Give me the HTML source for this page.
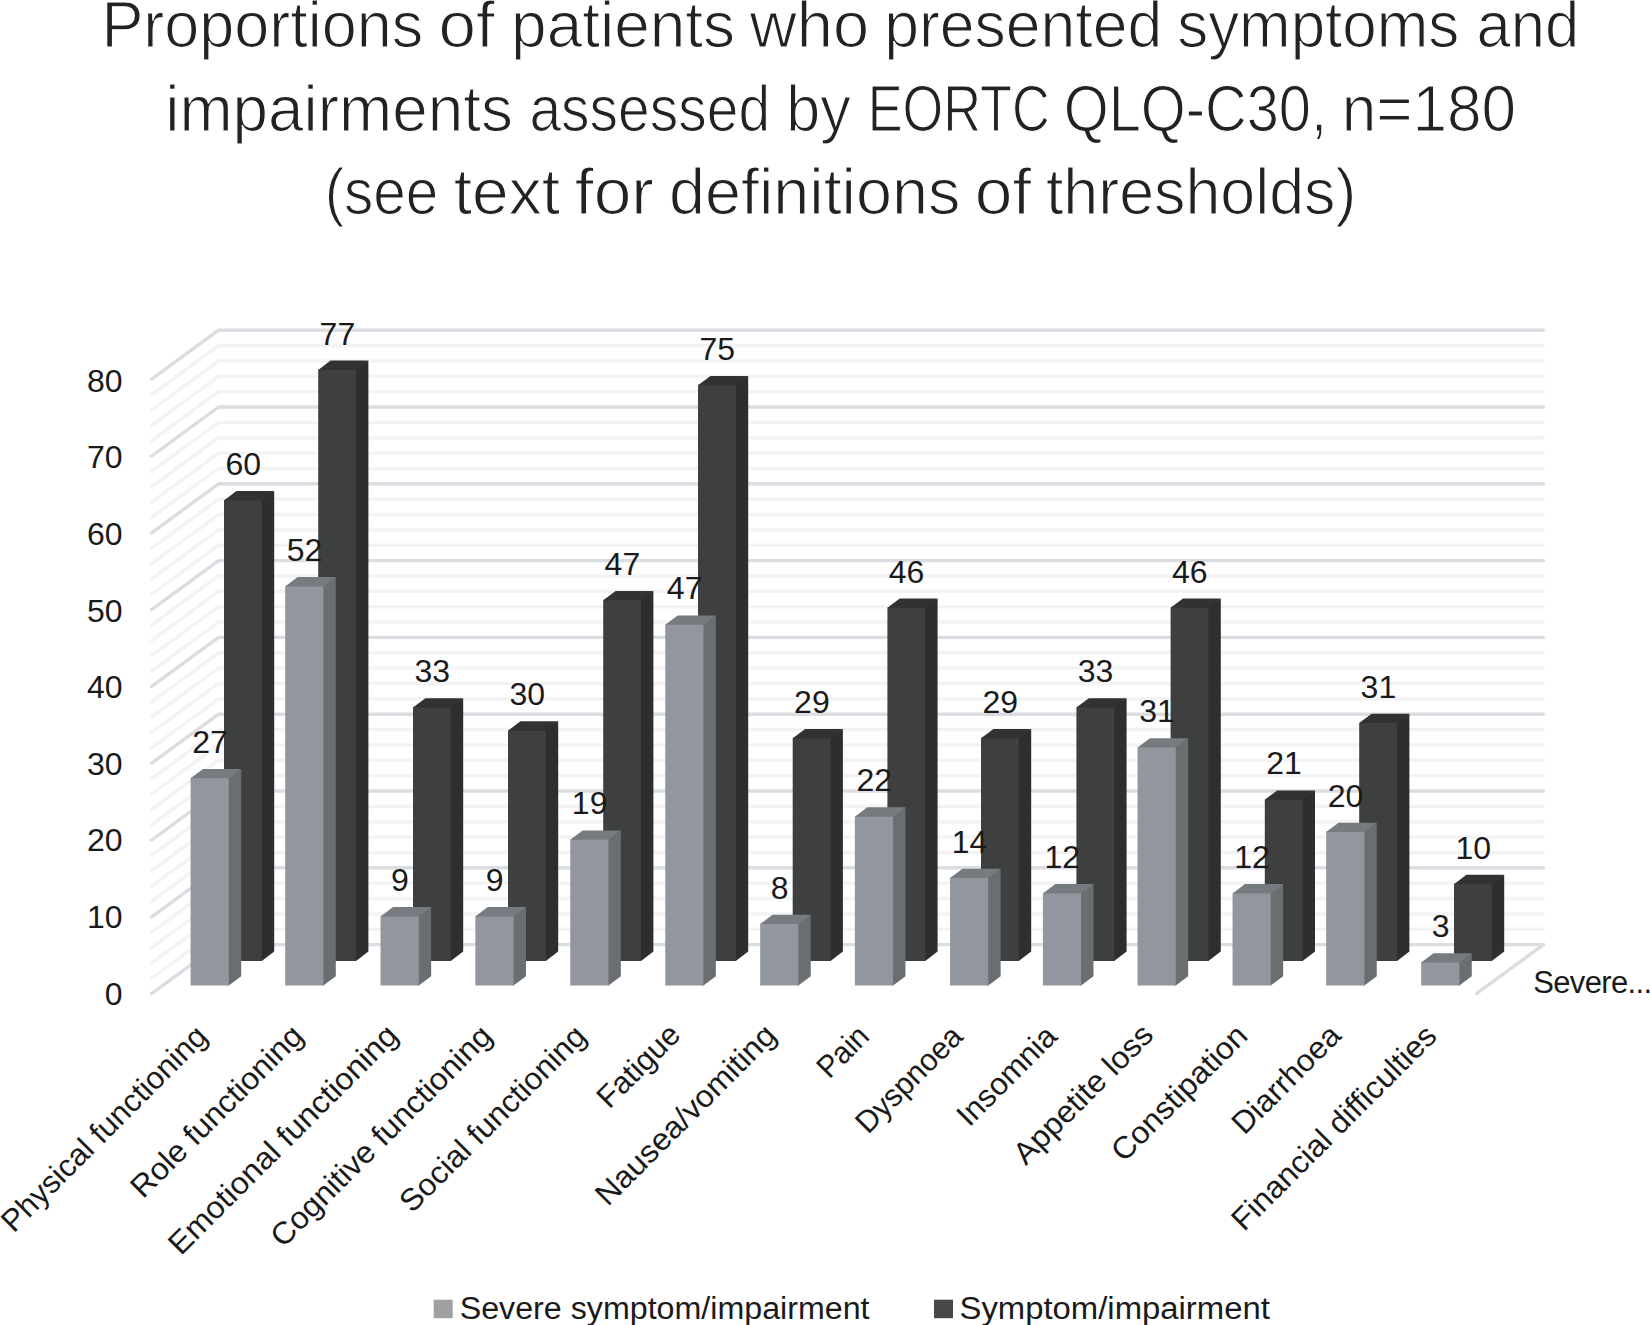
<!DOCTYPE html>
<html><head><meta charset="utf-8"><title>Proportions of patients who presented symptoms and impairments (EORTC QLQ-C30)</title>
<style>html,body{margin:0;padding:0;background:#fff;overflow:hidden;}svg{display:block;}</style>
</head><body>
<svg width="1650" height="1325" viewBox="0 0 1650 1325">
<rect width="1650" height="1325" fill="#fff"/>
<path d="M151.7 978.24L218.6 929.24L1543.4 929.24M151.7 962.88L218.6 913.88L1543.4 913.88M151.7 947.52L218.6 898.52L1543.4 898.52M151.7 932.16L218.6 883.16L1543.4 883.16M151.7 901.44L218.6 852.44L1543.4 852.44M151.7 886.08L218.6 837.08L1543.4 837.08M151.7 870.72L218.6 821.72L1543.4 821.72M151.7 855.36L218.6 806.36L1543.4 806.36M151.7 824.64L218.6 775.64L1543.4 775.64M151.7 809.28L218.6 760.28L1543.4 760.28M151.7 793.92L218.6 744.92L1543.4 744.92M151.7 778.56L218.6 729.56L1543.4 729.56M151.7 747.84L218.6 698.84L1543.4 698.84M151.7 732.48L218.6 683.48L1543.4 683.48M151.7 717.12L218.6 668.12L1543.4 668.12M151.7 701.76L218.6 652.76L1543.4 652.76M151.7 671.04L218.6 622.04L1543.4 622.04M151.7 655.68L218.6 606.68L1543.4 606.68M151.7 640.32L218.6 591.32L1543.4 591.32M151.7 624.96L218.6 575.96L1543.4 575.96M151.7 594.24L218.6 545.24L1543.4 545.24M151.7 578.88L218.6 529.88L1543.4 529.88M151.7 563.52L218.6 514.52L1543.4 514.52M151.7 548.16L218.6 499.16L1543.4 499.16M151.7 517.44L218.6 468.44L1543.4 468.44M151.7 502.08L218.6 453.08L1543.4 453.08M151.7 486.72L218.6 437.72L1543.4 437.72M151.7 471.36L218.6 422.36L1543.4 422.36M151.7 440.64L218.6 391.64L1543.4 391.64M151.7 425.28L218.6 376.28L1543.4 376.28M151.7 409.92L218.6 360.92L1543.4 360.92M151.7 394.56L218.6 345.56L1543.4 345.56" fill="none" stroke="#f3f3f6" stroke-width="3.4" stroke-linejoin="round" stroke-linecap="round"/>
<path d="M151.7 993.6L218.6 944.6L1543.4 944.6M151.7 916.8L218.6 867.8L1543.4 867.8M151.7 840L218.6 791L1543.4 791M151.7 763.2L218.6 714.2L1543.4 714.2M151.7 686.4L218.6 637.4L1543.4 637.4M151.7 609.6L218.6 560.6L1543.4 560.6M151.7 532.8L218.6 483.8L1543.4 483.8M151.7 456L218.6 407L1543.4 407M151.7 379.2L218.6 330.2L1543.4 330.2" fill="none" stroke="#dcdde2" stroke-width="3.4" stroke-linejoin="round" stroke-linecap="round"/>
<path d="M1476.5 993.6L1543.4 944.6" fill="none" stroke="#dcdde2" stroke-width="3.4" stroke-linecap="round"/>
<path d="M260.8 960.9H261.8L274.2 951.6V491.1L260.8 499.4Z" fill="#2d2f2e"/><path d="M224 960.9H261.8V499.6H225.07L224 500.4Z" fill="#3e4040"/><path d="M224 500.4H261.8L274.2 491.1H236.4Z" fill="#303332"/>
<path d="M355 960.9H356L368.4 951.6V360.62L355 368.92Z" fill="#2d2f2e"/><path d="M318.2 960.9H356V369.12H319.27L318.2 369.92Z" fill="#3e4040"/><path d="M318.2 369.92H356L368.4 360.62H330.6Z" fill="#303332"/>
<path d="M449.8 960.9H450.8L463.2 951.6V698.33L449.8 706.62Z" fill="#2d2f2e"/><path d="M413 960.9H450.8V706.83H414.07L413 707.62Z" fill="#3e4040"/><path d="M413 707.62H450.8L463.2 698.33H425.4Z" fill="#303332"/>
<path d="M544.8 960.9H545.8L558.2 951.6V721.35L544.8 729.65Z" fill="#2d2f2e"/><path d="M508 960.9H545.8V729.85H509.07L508 730.65Z" fill="#3e4040"/><path d="M508 730.65H545.8L558.2 721.35H520.4Z" fill="#303332"/>
<path d="M640 960.9H641L653.4 951.6V590.88L640 599.17Z" fill="#2d2f2e"/><path d="M603.2 960.9H641V599.38H604.27L603.2 600.17Z" fill="#3e4040"/><path d="M603.2 600.17H641L653.4 590.88H615.6Z" fill="#303332"/>
<path d="M734.8 960.9H735.8L748.2 951.6V375.97L734.8 384.27Z" fill="#2d2f2e"/><path d="M698 960.9H735.8V384.47H699.07L698 385.27Z" fill="#3e4040"/><path d="M698 385.27H735.8L748.2 375.97H710.4Z" fill="#303332"/>
<path d="M829.5 960.9H830.5L842.9 951.6V729.03L829.5 737.33Z" fill="#2d2f2e"/><path d="M792.7 960.9H830.5V737.53H793.77L792.7 738.33Z" fill="#3e4040"/><path d="M792.7 738.33H830.5L842.9 729.03H805.1Z" fill="#303332"/>
<path d="M924.2 960.9H925.2L937.6 951.6V598.55L924.2 606.85Z" fill="#2d2f2e"/><path d="M887.4 960.9H925.2V607.05H888.47L887.4 607.85Z" fill="#3e4040"/><path d="M887.4 607.85H925.2L937.6 598.55H899.8Z" fill="#303332"/>
<path d="M1017.8 960.9H1018.8L1031.2 951.6V729.03L1017.8 737.33Z" fill="#2d2f2e"/><path d="M981 960.9H1018.8V737.53H982.07L981 738.33Z" fill="#3e4040"/><path d="M981 738.33H1018.8L1031.2 729.03H993.4Z" fill="#303332"/>
<path d="M1113.2 960.9H1114.2L1126.6 951.6V698.33L1113.2 706.62Z" fill="#2d2f2e"/><path d="M1076.4 960.9H1114.2V706.83H1077.47L1076.4 707.62Z" fill="#3e4040"/><path d="M1076.4 707.62H1114.2L1126.6 698.33H1088.8Z" fill="#303332"/>
<path d="M1207.4 960.9H1208.4L1220.8 951.6V598.55L1207.4 606.85Z" fill="#2d2f2e"/><path d="M1170.6 960.9H1208.4V607.05H1171.67L1170.6 607.85Z" fill="#3e4040"/><path d="M1170.6 607.85H1208.4L1220.8 598.55H1183Z" fill="#303332"/>
<path d="M1301.6 960.9H1302.6L1315 951.6V790.43L1301.6 798.73Z" fill="#2d2f2e"/><path d="M1264.8 960.9H1302.6V798.93H1265.87L1264.8 799.73Z" fill="#3e4040"/><path d="M1264.8 799.73H1302.6L1315 790.43H1277.2Z" fill="#303332"/>
<path d="M1396 960.9H1397L1409.4 951.6V713.68L1396 721.98Z" fill="#2d2f2e"/><path d="M1359.2 960.9H1397V722.18H1360.27L1359.2 722.98Z" fill="#3e4040"/><path d="M1359.2 722.98H1397L1409.4 713.68H1371.6Z" fill="#303332"/>
<path d="M1490.8 960.9H1491.8L1504.2 951.6V874.85L1490.8 883.15Z" fill="#2d2f2e"/><path d="M1454 960.9H1491.8V883.35H1455.07L1454 884.15Z" fill="#3e4040"/><path d="M1454 884.15H1491.8L1504.2 874.85H1466.4Z" fill="#303332"/>
<path d="M227.8 985.5H228.8L241.2 976.2V768.98L227.8 777.27Z" fill="#6a6e71"/><path d="M190.6 985.5H228.8V777.48H191.67L190.6 778.27Z" fill="#92969e"/><path d="M190.6 778.27H228.8L241.2 768.98H203Z" fill="#767b7f"/>
<path d="M322.4 985.5H323.4L335.8 976.2V577.1L322.4 585.4Z" fill="#6a6e71"/><path d="M285.2 985.5H323.4V585.6H286.27L285.2 586.4Z" fill="#92969e"/><path d="M285.2 586.4H323.4L335.8 577.1H297.6Z" fill="#767b7f"/>
<path d="M417.75 985.5H418.75L431.15 976.2V907.12L417.75 915.42Z" fill="#6a6e71"/><path d="M380.55 985.5H418.75V915.62H381.62L380.55 916.42Z" fill="#92969e"/><path d="M380.55 916.42H418.75L431.15 907.12H392.95Z" fill="#767b7f"/>
<path d="M512.55 985.5H513.55L525.95 976.2V907.12L512.55 915.42Z" fill="#6a6e71"/><path d="M475.35 985.5H513.55V915.62H476.42L475.35 916.42Z" fill="#92969e"/><path d="M475.35 916.42H513.55L525.95 907.12H487.75Z" fill="#767b7f"/>
<path d="M607.45 985.5H608.45L620.85 976.2V830.38L607.45 838.67Z" fill="#6a6e71"/><path d="M570.25 985.5H608.45V838.88H571.32L570.25 839.67Z" fill="#92969e"/><path d="M570.25 839.67H608.45L620.85 830.38H582.65Z" fill="#767b7f"/>
<path d="M702.45 985.5H703.45L715.85 976.2V615.48L702.45 623.78Z" fill="#6a6e71"/><path d="M665.25 985.5H703.45V623.98H666.32L665.25 624.78Z" fill="#92969e"/><path d="M665.25 624.78H703.45L715.85 615.48H677.65Z" fill="#767b7f"/>
<path d="M797.35 985.5H798.35L810.75 976.2V914.8L797.35 923.1Z" fill="#6a6e71"/><path d="M760.15 985.5H798.35V923.3H761.22L760.15 924.1Z" fill="#92969e"/><path d="M760.15 924.1H798.35L810.75 914.8H772.55Z" fill="#767b7f"/>
<path d="M892.05 985.5H893.05L905.45 976.2V807.35L892.05 815.65Z" fill="#6a6e71"/><path d="M854.85 985.5H893.05V815.85H855.92L854.85 816.65Z" fill="#92969e"/><path d="M854.85 816.65H893.05L905.45 807.35H867.25Z" fill="#767b7f"/>
<path d="M987.25 985.5H988.25L1000.65 976.2V868.75L987.25 877.05Z" fill="#6a6e71"/><path d="M950.05 985.5H988.25V877.25H951.12L950.05 878.05Z" fill="#92969e"/><path d="M950.05 878.05H988.25L1000.65 868.75H962.45Z" fill="#767b7f"/>
<path d="M1080.1 985.5H1081.1L1093.5 976.2V884.1L1080.1 892.4Z" fill="#6a6e71"/><path d="M1042.9 985.5H1081.1V892.6H1043.97L1042.9 893.4Z" fill="#92969e"/><path d="M1042.9 893.4H1081.1L1093.5 884.1H1055.3Z" fill="#767b7f"/>
<path d="M1174.75 985.5H1175.75L1188.15 976.2V738.28L1174.75 746.58Z" fill="#6a6e71"/><path d="M1137.55 985.5H1175.75V746.78H1138.62L1137.55 747.58Z" fill="#92969e"/><path d="M1137.55 747.58H1175.75L1188.15 738.28H1149.95Z" fill="#767b7f"/>
<path d="M1269.75 985.5H1270.75L1283.15 976.2V884.1L1269.75 892.4Z" fill="#6a6e71"/><path d="M1232.55 985.5H1270.75V892.6H1233.62L1232.55 893.4Z" fill="#92969e"/><path d="M1232.55 893.4H1270.75L1283.15 884.1H1244.95Z" fill="#767b7f"/>
<path d="M1363.35 985.5H1364.35L1376.75 976.2V822.7L1363.35 831Z" fill="#6a6e71"/><path d="M1326.15 985.5H1364.35V831.2H1327.22L1326.15 832Z" fill="#92969e"/><path d="M1326.15 832H1364.35L1376.75 822.7H1338.55Z" fill="#767b7f"/>
<path d="M1458.35 985.5H1459.35L1471.75 976.2V953.18L1458.35 961.48Z" fill="#6a6e71"/><path d="M1421.15 985.5H1459.35V961.68H1422.22L1421.15 962.48Z" fill="#92969e"/><path d="M1421.15 962.48H1459.35L1471.75 953.18H1433.55Z" fill="#767b7f"/>
<g font-family="'Liberation Sans', Arial, sans-serif" font-size="32" fill="#1a1a1a"  text-anchor="middle">
<text x="243.2" y="475.1">60</text>
<text x="337.4" y="344.62">77</text>
<text x="432.2" y="682.33">33</text>
<text x="527.2" y="705.35">30</text>
<text x="622.4" y="574.88">47</text>
<text x="717.2" y="359.97">75</text>
<text x="811.9" y="713.03">29</text>
<text x="906.6" y="582.55">46</text>
<text x="1000.2" y="713.03">29</text>
<text x="1095.6" y="682.33">33</text>
<text x="1189.8" y="582.55">46</text>
<text x="1284" y="774.43">21</text>
<text x="1378.4" y="697.68">31</text>
<text x="1473.2" y="858.85">10</text>
<text x="210" y="752.77">27</text>
<text x="304.6" y="560.9">52</text>
<text x="399.95" y="890.92">9</text>
<text x="494.75" y="890.92">9</text>
<text x="589.65" y="814.17">19</text>
<text x="684.65" y="599.28">47</text>
<text x="779.55" y="898.6">8</text>
<text x="874.25" y="791.15">22</text>
<text x="969.45" y="852.55">14</text>
<text x="1062.3" y="867.9">12</text>
<text x="1156.95" y="722.08">31</text>
<text x="1251.95" y="867.9">12</text>
<text x="1345.55" y="806.5">20</text>
<text x="1440.55" y="936.98">3</text>
</g>
<g font-family="'Liberation Sans', Arial, sans-serif" font-size="32" fill="#1a1a1a"  text-anchor="end">
<text x="122.5" y="1004.8">0</text>
<text x="122.5" y="928.14">10</text>
<text x="122.5" y="851.48">20</text>
<text x="122.5" y="774.82">30</text>
<text x="122.5" y="698.16">40</text>
<text x="122.5" y="621.5">50</text>
<text x="122.5" y="544.84">60</text>
<text x="122.5" y="468.18">70</text>
<text x="122.5" y="391.52">80</text>
</g>
<g font-family="'Liberation Sans', Arial, sans-serif" font-size="31" fill="#1a1a1a"  text-anchor="end">
<text x="209.1" y="1038.2" textLength="276.4" lengthAdjust="spacingAndGlyphs" transform="rotate(-45 209.1 1038.2)">Physical functioning</text>
<text x="305" y="1037.7" textLength="228.91" lengthAdjust="spacingAndGlyphs" transform="rotate(-45 305 1037.7)">Role functioning</text>
<text x="399.8" y="1037.3" textLength="309.86" lengthAdjust="spacingAndGlyphs" transform="rotate(-45 399.8 1037.3)">Emotional functioning</text>
<text x="493.9" y="1037.8" textLength="298.33" lengthAdjust="spacingAndGlyphs" transform="rotate(-45 493.9 1037.8)">Cognitive functioning</text>
<text x="588" y="1038" textLength="248.73" lengthAdjust="spacingAndGlyphs" transform="rotate(-45 588 1038)">Social functioning</text>
<text x="682.2" y="1036.7" textLength="103.26" lengthAdjust="spacingAndGlyphs" transform="rotate(-45 682.2 1036.7)">Fatigue</text>
<text x="777.9" y="1037.1" textLength="240.45" lengthAdjust="spacingAndGlyphs" transform="rotate(-45 777.9 1037.1)">Nausea/vomiting</text>
<text x="871" y="1038" textLength="59.15" lengthAdjust="spacingAndGlyphs" transform="rotate(-45 871 1038)">Pain</text>
<text x="964.5" y="1038.3" textLength="136.62" lengthAdjust="spacingAndGlyphs" transform="rotate(-45 964.5 1038.3)">Dyspnoea</text>
<text x="1058.8" y="1038.2" textLength="126.72" lengthAdjust="spacingAndGlyphs" transform="rotate(-45 1058.8 1038.2)">Insomnia</text>
<text x="1155.1" y="1036.8" textLength="182.95" lengthAdjust="spacingAndGlyphs" transform="rotate(-45 1155.1 1036.8)">Appetite loss</text>
<text x="1249.4" y="1037.5" textLength="177.86" lengthAdjust="spacingAndGlyphs" transform="rotate(-45 1249.4 1037.5)">Constipation</text>
<text x="1342.8" y="1037.3" textLength="139.38" lengthAdjust="spacingAndGlyphs" transform="rotate(-45 1342.8 1037.3)">Diarrhoea</text>
<text x="1438.5" y="1037.8" textLength="274.88" lengthAdjust="spacingAndGlyphs" transform="rotate(-45 1438.5 1037.8)">Financial difficulties</text>
</g>
<text font-family="'Liberation Sans', Arial, sans-serif" font-size="31" fill="#1a1a1a"  x="1533.2" y="993.2" letter-spacing="-0.65">Severe...</text>
<g font-family="'Liberation Sans', Arial, sans-serif" font-size="64" fill="#222222" stroke="#fff" stroke-width="1.2">
<text y="46.8"><tspan x="101.4" textLength="321.83" lengthAdjust="spacingAndGlyphs">Proportions</tspan> <tspan x="438.44" textLength="56.15" lengthAdjust="spacingAndGlyphs">of</tspan> <tspan x="511.11" textLength="223.84" lengthAdjust="spacingAndGlyphs">patients</tspan> <tspan x="749.88" textLength="119.17" lengthAdjust="spacingAndGlyphs">who</tspan> <tspan x="884.22" textLength="277.93" lengthAdjust="spacingAndGlyphs">presented</tspan> <tspan x="1177.2" textLength="282.11" lengthAdjust="spacingAndGlyphs">symptoms</tspan> <tspan x="1476.62" textLength="102.57" lengthAdjust="spacingAndGlyphs">and</tspan></text>
<text y="130.5"><tspan x="165.21" textLength="347.61" lengthAdjust="spacingAndGlyphs">impairments</tspan> <tspan x="529.43" textLength="240.65" lengthAdjust="spacingAndGlyphs">assessed</tspan> <tspan x="786.23" textLength="64.49" lengthAdjust="spacingAndGlyphs">by</tspan> <tspan x="867.7" textLength="182.15" lengthAdjust="spacingAndGlyphs">EORTC</tspan> <tspan x="1063.69" textLength="263.32" lengthAdjust="spacingAndGlyphs">QLQ-C30,</tspan> <tspan x="1341.65" textLength="174.52" lengthAdjust="spacingAndGlyphs">n=180</tspan></text>
<text y="214.1"><tspan x="324.63" textLength="113.77" lengthAdjust="spacingAndGlyphs">(see</tspan> <tspan x="453.74" textLength="106.25" lengthAdjust="spacingAndGlyphs">text</tspan> <tspan x="574.88" textLength="79.0" lengthAdjust="spacingAndGlyphs">for</tspan> <tspan x="669.07" textLength="291.15" lengthAdjust="spacingAndGlyphs">definitions</tspan> <tspan x="974.83" textLength="56.47" lengthAdjust="spacingAndGlyphs">of</tspan> <tspan x="1045.94" textLength="310.36" lengthAdjust="spacingAndGlyphs">thresholds)</tspan></text>
</g>
<rect x="433.7" y="1299.7" width="19" height="18.5" fill="#a0a0a0"/>
<rect x="934" y="1299.7" width="19" height="18.5" fill="#484848"/>
<g font-family="'Liberation Sans', Arial, sans-serif" font-size="31" fill="#1a1a1a" >
<text x="459.72" y="1319.2" textLength="409.81" lengthAdjust="spacingAndGlyphs">Severe symptom/impairment</text>
<text x="959.48" y="1319.2" textLength="310.37" lengthAdjust="spacingAndGlyphs">Symptom/impairment</text>
</g>
</svg>
</body></html>
